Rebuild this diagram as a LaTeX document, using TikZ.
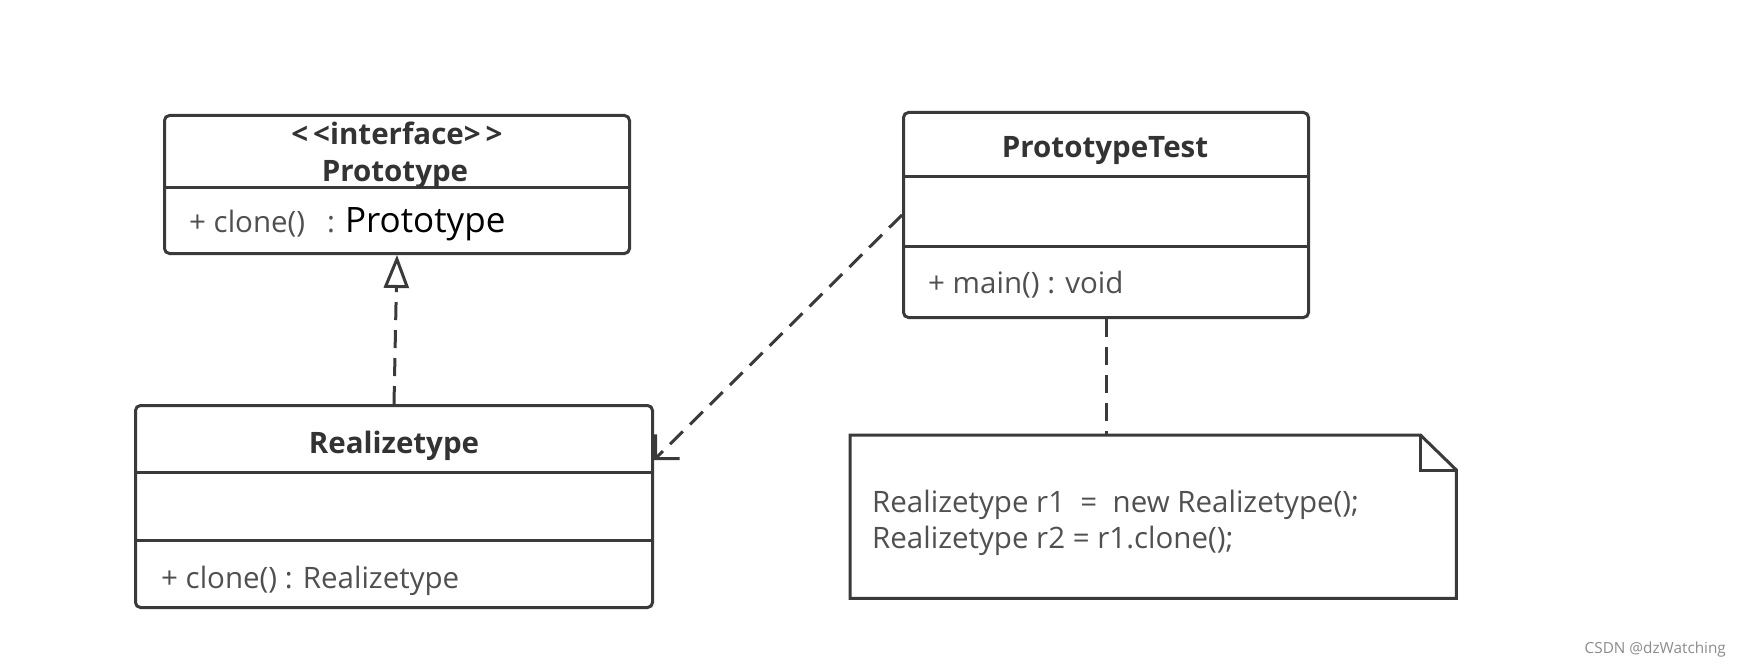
\documentclass[tikz,border=0pt]{standalone}
\usepackage{fontspec}
\setmainfont{Open Sans}
\usetikzlibrary{positioning, arrows.meta}
\definecolor{linec}{HTML}{3A3A3A}
\definecolor{textc}{HTML}{333333}
\definecolor{memberc}{HTML}{505050}

\begin{document}
\begin{tikzpicture}[x=1pt, y=-1pt,
	cls/.style={draw=linec, line width=3pt, rounded corners=5pt, inner sep=0pt, anchor=north west},
	title/.style={font=\fontsize{29.5}{34}\selectfont\bfseries, text=textc, anchor=base, inner sep=0pt},
	member/.style={font=\fontsize{29.5}{34}\selectfont, text=memberc, anchor=base west, inner sep=0pt},
	sep/.style={draw=linec, line width=3pt},
	dep/.style={draw=linec, line width=3pt, dash pattern=on 18pt off 10pt}]
	\useasboundingbox[fill=white] (0,0) rectangle (1741,666);

	% class boxes
	\node[cls, minimum width=465pt, minimum height=138pt] (proto) at (163,114) {};
	\node[cls, minimum width=517pt, minimum height=202pt] (real) at (134,404) {};
	\node[cls, minimum width=405pt, minimum height=205pt] (test) at (902,111) {};
	\node[inner sep=0pt, minimum width=606pt, minimum height=163pt, anchor=north west] (note) at (850,435) {};

	\draw[sep] ([yshift=-74pt]proto.north west) -- ([yshift=-74pt]proto.north east);
	\draw[sep] ([yshift=-68pt]real.north west) -- ([yshift=-68pt]real.north east);
	\draw[sep] ([yshift=-136pt]real.north west) -- ([yshift=-136pt]real.north east);
	\draw[sep] ([yshift=-66pt]test.north west) -- ([yshift=-66pt]test.north east);
	\draw[sep] ([yshift=-135pt]test.north west) -- ([yshift=-135pt]test.north east);

	% note with folded corner
	\draw[sep] (note.north west) -- ([xshift=-36pt]note.north east) -- ([yshift=-35pt]note.north east)
		-- (note.south east) -- (note.south west) -- cycle;
	\draw[sep] ([xshift=-36pt]note.north east) -- ([xshift=-36pt, yshift=-35pt]note.north east)
		-- ([yshift=-35pt]note.north east);

	% texts
	\node[title] (stereo) at (397,145) {<\hspace{5pt}<interface>\hspace{5pt}>};
	\node[title] (protoname) at (395,182) {Prototype};
	\node[member] (protoop) at (189,232) {+ clone()\hspace{22pt}:\hspace{10pt}\fontsize{35}{40}\selectfont\color{black}Prototype};
	\node[title] (realname) at (394,453) {Realizetype};
	\node[member] (realop) at (161,588) {+ clone() : Realizetype};
	\node[title] (testname) at (1105,158) {PrototypeTest};
	\node[member] (testop) at (928,293) {+ main() : void};
	\node[member] (code1) at (872,512) {Realizetype r1 \ = \ new Realizetype();};
	\node[member] (code2) at (872,548) {Realizetype r2 = r1.clone();};
	\node[font=\fontsize{15.3}{18}\selectfont, text=black!45, anchor=base east, inner sep=0pt] (mark) at (1726,653) {CSDN @dzWatching};

	% relations
	\draw[dep, -{Triangle[open, length=33pt, width=25pt]}] (real.north) -- (proto.south);
	\draw[dep, -{Straight Barb[length=17pt, width=34pt]}] ([yshift=-104pt]test.north west) -- ([yshift=-56pt]real.north east);
	\draw[dep] (test.south) -- (test.south |- note.north);
\end{tikzpicture}
\end{document}
